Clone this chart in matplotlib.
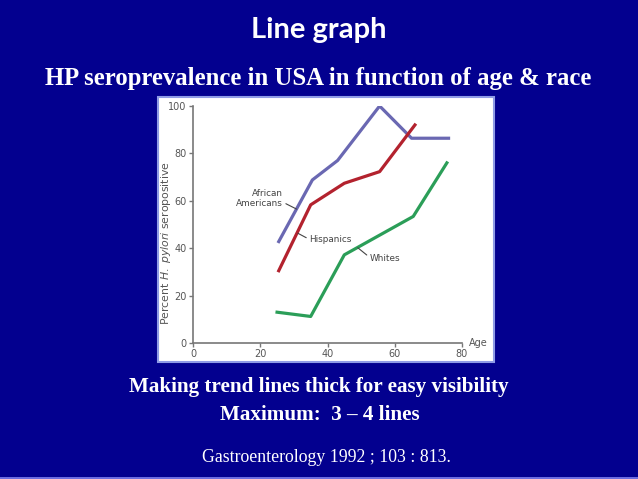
import matplotlib.pyplot as plt
from matplotlib.patches import Rectangle

# values
age_aa = [25.5, 35.5, 43, 55.5, 65, 76]
pct_aa = [42.8, 68.8, 77, 100, 86.4, 86.4]
age_hisp = [25.5, 35, 45, 55.5, 66]
pct_hisp = [30.5, 58.3, 67.4, 72.3, 92]
age_white = [25, 35, 45, 65.5, 75.5]
pct_white = [13, 11.2, 37.2, 53.4, 76]
xticks = [0, 20, 40, 60, 80]
yticks = [0, 20, 40, 60, 80, 100]

W, H = 638, 479
bg = "#03008f"
fig = plt.figure(figsize=(W/100, H/100), dpi=100, facecolor=bg)

# white panel behind the chart
fig.patches.append(Rectangle((158/W, 1-362/H), (494-158)/W, (362-97)/H,
                             transform=fig.transFigure, facecolor="white",
                             edgecolor="#8f9ce6", linewidth=1.5, zorder=0))
# thin light line at the bottom of the slide
fig.patches.append(Rectangle((0, 0), 1, 2/H, transform=fig.transFigure,
                             facecolor="#6c6ce0", edgecolor="none", zorder=0))

ax = fig.add_axes([193/W, 1-343/H, (462-193)/W, (343-106)/H])
ax.set_zorder(2)
ax.set_facecolor("none")
ax.plot(age_aa, pct_aa, color="#6a68b2", linewidth=2.3)
ax.plot(age_hisp, pct_hisp, color="#b3222e", linewidth=2.3)
ax.plot(age_white, pct_white, color="#2b9e58", linewidth=2.3)

ax.set_xlim(0, 80)
ax.set_ylim(0, 100)
ax.set_xticks(xticks)
ax.set_yticks(yticks)
for s in ["top", "right"]:
    ax.spines[s].set_visible(False)
for s in ["left", "bottom"]:
    ax.spines[s].set_color("#777777")
    ax.spines[s].set_linewidth(1.2)
ax.tick_params(colors="#777777", labelcolor="#555555", labelsize=7, length=3, width=1, pad=1.5)
ax.text(82, 0, "Age", fontsize=7, color="#555555", ha="left", va="center")

ann = dict(fontsize=6.4, color="#444444")
line = dict(arrowstyle="-", color="#444444", lw=0.8, shrinkA=0, shrinkB=0)
ax.annotate("African\nAmericans", xy=(30.8, 56.5), xytext=(26.8, 61), ha="right", va="center",
            arrowprops=dict(relpos=(1, 0.3), **line), **ann)
ax.annotate("Hispanics", xy=(31.2, 46.3), xytext=(34.5, 43.8), ha="left", va="center",
            arrowprops=dict(relpos=(0, 0.5), **line), **ann)
ax.annotate("Whites", xy=(49, 40.2), xytext=(52.5, 35.8), ha="left", va="center",
            arrowprops=dict(relpos=(0, 0.6), **line), **ann)

fig.text(166/W, 1-243/H, "Percent $\\it{H.\\ pylori}$ seropositive", rotation=90,
         ha="center", va="center", fontsize=7.8, color="#555555", zorder=3)

fig.text(319/W, 1-30/H, "Line graph", ha="center", va="center", color="white",
         fontsize=21, fontweight="bold", family="Lato")
fig.text(318/W, 1-79/H, "HP seroprevalence in USA in function of age & race", ha="center",
         va="center", color="white", fontsize=17.8, fontweight="bold", family="Liberation Serif")
fig.text(319/W, 1-387/H, "Making trend lines thick for easy visibility", ha="center",
         va="center", color="white", fontsize=15.2, fontweight="bold", family="Liberation Serif")
fig.text(320/W, 1-415/H, "Maximum:  3 \u2013 4 lines", ha="center", va="center",
         color="white", fontsize=15.2, fontweight="bold", family="Liberation Serif")
fig.text(326/W, 1-458/H, "Gastroenterology 1992 ; 103 : 813.", ha="center", va="center",
         color="white", fontsize=12.8, family="Liberation Serif")

fig.savefig("out.png", dpi=100, facecolor=bg)
